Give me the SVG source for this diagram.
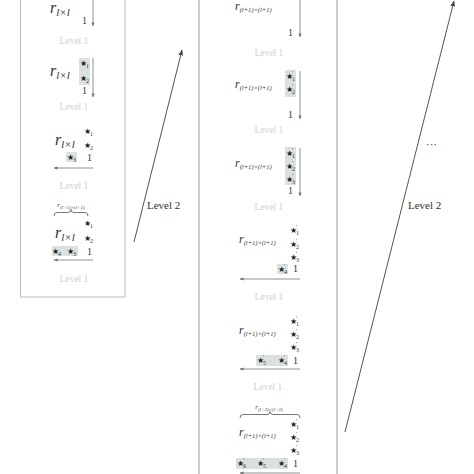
<svg xmlns="http://www.w3.org/2000/svg" width="474" height="474" viewBox="0 0 474 474">
<style>
.lv{font-family:"Liberation Serif",serif;font-size:9.5px;fill:#d0d0d0;text-anchor:middle}
.l2{font-family:"Liberation Serif",serif;font-size:11px;fill:#333}
.one{font-family:"Liberation Serif",serif;font-size:10px;fill:#333}
.st{font-family:"DejaVu Sans",sans-serif;font-size:8px;fill:#222}
.sb{font-family:"Liberation Serif",serif;font-size:6px;fill:#333}
.rL{font-family:"Liberation Serif",serif;font-style:italic;font-size:16px;fill:#333}
.rR{font-family:"Liberation Serif",serif;font-style:italic;font-size:12px;fill:#333}
.rB{font-family:"Liberation Serif",serif;font-style:italic;font-size:7px;fill:#333;text-anchor:middle}
.hl{fill:#dbe1de}
.pa{stroke:#777;stroke-width:0.8;fill:none;marker-end:url(#sh)}
.ma{stroke:#555;stroke-width:1;fill:none;marker-end:url(#ah)}
.br{stroke:#555;stroke-width:0.8;fill:none}
.pnl{fill:none}
</style>
<defs>
<marker id="sh" viewBox="0 0 10 10" refX="9" refY="5" markerWidth="4" markerHeight="4" orient="auto" markerUnits="userSpaceOnUse"><path d="M0,1 L10,5 L0,9 z" fill="#777"/></marker>
<marker id="ah" viewBox="0 0 10 10" refX="9" refY="5" markerWidth="6" markerHeight="6" orient="auto" markerUnits="userSpaceOnUse"><path d="M0,1 L10,5 L0,9 z" fill="#444"/></marker>
</defs>
<rect width="474" height="474" fill="#fff"/>

<g id="panel-left">
<rect class="pnl" x="20.5" y="-5" width="104.5" height="302" stroke="#bbb" stroke-width="1"/>
</g>
<g id="panel-right">
<rect class="pnl" x="199" y="-5" width="138" height="490" stroke="#ccc" stroke-width="2"/>
</g>

<g id="left-step1">
<text class="rL" x="50" y="13">r<tspan font-size="11" dy="3">l×l</tspan></text>
<text class="one" x="82" y="24">1</text>
</g>
<text class="lv" x="74" y="44">Level 1</text>

<g id="left-step2">
<rect class="hl" x="79" y="58" width="11" height="27"/>
<text class="rL" x="50" y="76">r<tspan font-size="11" dy="3">l×l</tspan></text>
<text class="st" x="80" y="66">★</text><text class="sb" x="86" y="68">1</text>
<text class="st" x="80" y="81">★</text><text class="sb" x="86" y="83">2</text>
<text class="one" x="82" y="94">1</text>
</g>
<text class="lv" x="74" y="110">Level 1</text>

<g id="left-step3">
<rect class="hl" x="66" y="152" width="11" height="10"/>
<text class="rL" x="55" y="145">r<tspan font-size="11" dy="3">l×l</tspan></text>
<text class="st" x="84" y="134">★</text><text class="sb" x="90" y="136">1</text>
<text class="st" x="84" y="148">★</text><text class="sb" x="90" y="150">2</text>
<text class="st" x="67" y="160">★</text><text class="sb" x="73" y="162">3</text>
<text class="one" x="87" y="161">1</text>
</g>
<text class="lv" x="74" y="189">Level 1</text>

<g id="left-step4">
<text class="rB" x="71" y="207">r<tspan font-size="5" dy="1.5">(l+1)×(l+1)</tspan></text>
<path class="br" d="M54,216 Q54,212.5 57,212.5 L68,212.5 Q71,212.5 71,209.5 Q71,212.5 74,212.5 L85,212.5 Q88,212.5 88,216"/>
<rect class="hl" x="52" y="246" width="26" height="10"/>
<text class="rL" x="55" y="238">r<tspan font-size="11" dy="3">l×l</tspan></text>
<text class="st" x="84" y="226">★</text><text class="sb" x="90" y="228">1</text>
<text class="st" x="84" y="241">★</text><text class="sb" x="90" y="243">2</text>
<text class="st" x="52" y="254">★</text><text class="sb" x="58" y="256">4</text>
<text class="st" x="67" y="254">★</text><text class="sb" x="73" y="256">3</text>
<text class="one" x="87" y="255">1</text>
</g>
<text class="lv" x="74" y="282">Level 1</text>

<g id="right-step1">
<text class="rR" x="235" y="10">r<tspan font-size="6.5" dy="2">(l+1)×(l+1)</tspan></text>
<text class="one" x="288" y="36">1</text>
</g>
<text class="lv" x="269" y="56">Level 1</text>

<g id="right-step2">
<rect class="hl" x="285" y="70" width="11" height="27"/>
<text class="rR" x="235" y="88">r<tspan font-size="6.5" dy="2">(l+1)×(l+1)</tspan></text>
<text class="st" x="286" y="79">★</text><text class="sb" x="292" y="75">′</text><text class="sb" x="292" y="81">1</text>
<text class="st" x="286" y="92">★</text><text class="sb" x="292" y="88">′</text><text class="sb" x="292" y="94">2</text>
<text class="one" x="288" y="118">1</text>
</g>
<text class="lv" x="269" y="133">Level 1</text>

<g id="right-step3">
<rect class="hl" x="285" y="147" width="11" height="38"/>
<text class="rR" x="235" y="167">r<tspan font-size="6.5" dy="2">(l+1)×(l+1)</tspan></text>
<text class="st" x="286" y="156">★</text><text class="sb" x="292" y="152">′</text><text class="sb" x="292" y="158">1</text>
<text class="st" x="286" y="169">★</text><text class="sb" x="292" y="165">′</text><text class="sb" x="292" y="171">2</text>
<text class="st" x="286" y="182">★</text><text class="sb" x="292" y="178">′</text><text class="sb" x="292" y="184">3</text>
<text class="one" x="288" y="194">1</text>
</g>
<text class="lv" x="269" y="210">Level 1</text>

<g id="right-step4">
<rect class="hl" x="277" y="264" width="11" height="10"/>
<text class="rR" x="239" y="243">r<tspan font-size="6.5" dy="2">(l+1)×(l+1)</tspan></text>
<text class="st" x="290" y="233">★</text><text class="sb" x="296" y="229">′</text><text class="sb" x="296" y="235">1</text>
<text class="st" x="290" y="247">★</text><text class="sb" x="296" y="243">′</text><text class="sb" x="296" y="249">2</text>
<text class="st" x="290" y="260">★</text><text class="sb" x="296" y="256">′</text><text class="sb" x="296" y="262">3</text>
<text class="st" x="278" y="272">★</text><text class="sb" x="284" y="268">′</text><text class="sb" x="284" y="274">4</text>
<text class="one" x="293" y="272">1</text>
</g>
<text class="lv" x="269" y="300">Level 1</text>

<g id="right-step5">
<rect class="hl" x="256" y="355" width="32" height="11"/>
<text class="rR" x="239" y="334">r<tspan font-size="6.5" dy="2">(l+1)×(l+1)</tspan></text>
<text class="st" x="290" y="324">★</text><text class="sb" x="296" y="320">′</text><text class="sb" x="296" y="326">1</text>
<text class="st" x="290" y="337">★</text><text class="sb" x="296" y="333">′</text><text class="sb" x="296" y="339">2</text>
<text class="st" x="290" y="350">★</text><text class="sb" x="296" y="346">′</text><text class="sb" x="296" y="352">3</text>
<text class="st" x="257" y="363">★</text><text class="sb" x="263" y="359">′</text><text class="sb" x="263" y="365">5</text>
<text class="st" x="278" y="363">★</text><text class="sb" x="284" y="359">′</text><text class="sb" x="284" y="365">4</text>
<text class="one" x="293" y="364">1</text>
</g>
<text class="lv" x="268" y="390">Level 1</text>

<g id="right-step6">
<text class="rB" x="269" y="409">r<tspan font-size="5" dy="1.5">(l+2)×(l+2)</tspan></text>
<path class="br" d="M240,418 Q240,414.5 243,414.5 L267,414.5 Q270,414.5 270,411.5 Q270,414.5 273,414.5 L297,414.5 Q300,414.5 300,418"/>
<rect class="hl" x="236" y="458" width="52" height="11"/>
<text class="rR" x="239" y="436">r<tspan font-size="6.5" dy="2">(l+1)×(l+1)</tspan></text>
<text class="st" x="290" y="427">★</text><text class="sb" x="296" y="423">′</text><text class="sb" x="296" y="429">1</text>
<text class="st" x="290" y="440">★</text><text class="sb" x="296" y="436">′</text><text class="sb" x="296" y="442">2</text>
<text class="st" x="290" y="453">★</text><text class="sb" x="296" y="449">′</text><text class="sb" x="296" y="455">3</text>
<text class="st" x="237" y="466">★</text><text class="sb" x="243" y="462">′</text><text class="sb" x="243" y="468">6</text>
<text class="st" x="257" y="466">★</text><text class="sb" x="263" y="462">′</text><text class="sb" x="263" y="468">5</text>
<text class="st" x="278" y="466">★</text><text class="sb" x="284" y="462">′</text><text class="sb" x="284" y="468">4</text>
<text class="one" x="293" y="467">1</text>
</g>

<g id="labels">
<text class="l2" x="147" y="209">Level 2</text>
<text class="l2" x="408" y="209">Level 2</text>
<text class="l2" x="426" y="148" fill="#777" font-size="9">···</text>
</g>

<g id="connectors">
<line class="pa" x1="93" y1="-2" x2="93" y2="26"/>
<line class="pa" x1="93" y1="58" x2="93" y2="97"/>
<line class="pa" x1="93" y1="168" x2="54" y2="168"/>
<line class="pa" x1="93" y1="260" x2="54" y2="260"/>
<line class="pa" x1="300" y1="-2" x2="300" y2="37"/>
<line class="pa" x1="300" y1="71" x2="300" y2="119"/>
<line class="pa" x1="300" y1="148" x2="300" y2="196"/>
<line class="pa" x1="300" y1="279" x2="240" y2="279"/>
<line class="pa" x1="300" y1="369" x2="240" y2="369"/>
<line class="pa" x1="300" y1="473" x2="240" y2="473"/>
<line class="ma" x1="134" y1="242" x2="182" y2="50"/>
<line class="ma" x1="345" y1="432" x2="454" y2="1"/>
</g>
</svg>
